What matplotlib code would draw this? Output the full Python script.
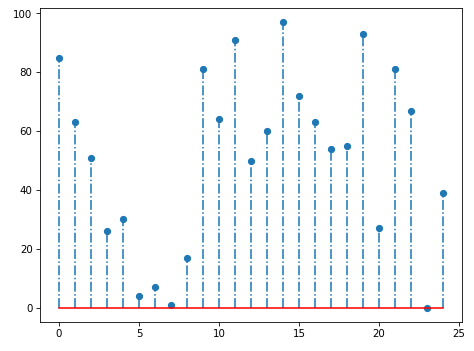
import matplotlib
matplotlib.use("Agg")
import matplotlib.pyplot as plt
import numpy as np

x = list(range(25))
values = [85, 63, 51, 26, 30, 4, 7, 1, 17, 81, 64, 91, 50, 60, 97, 72, 63, 54, 55, 93, 27, 81, 67, 0, 39]

fig, ax = plt.subplots(figsize=(6.4, 4.74), dpi=74.0625)
ax.stem(x, values, linefmt='-.', basefmt='r-')
fig.subplots_adjust(left=0.084, right=0.975, top=0.977, bottom=0.083)
fig.savefig("out.png")
